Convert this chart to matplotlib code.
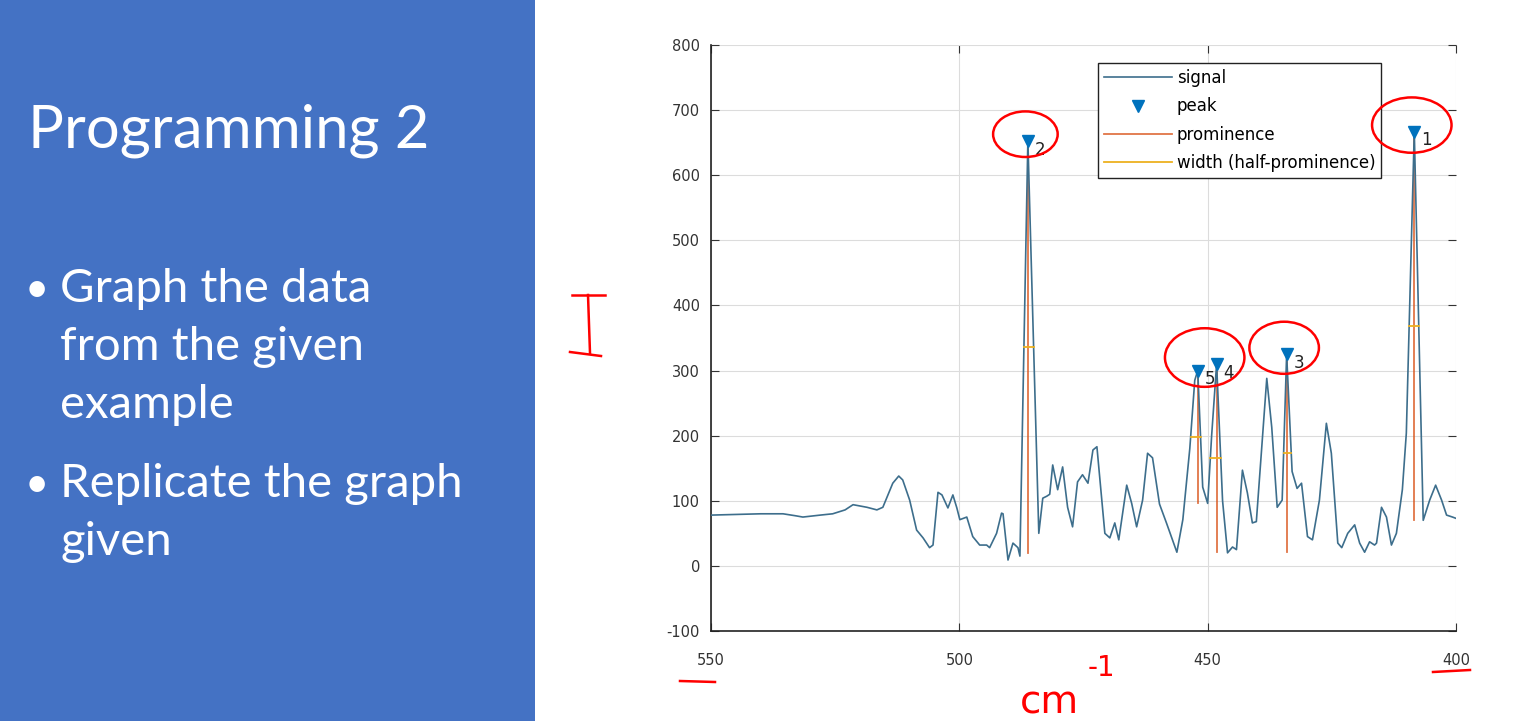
import numpy as np
import matplotlib.pyplot as plt
from matplotlib.patches import Ellipse, Rectangle
from matplotlib.lines import Line2D

plt.rcParams["axes.unicode_minus"] = False

# signal (wavenumber in cm^-1, intensity)
wavenumber = [550, 545, 540, 535.5, 533, 531.5, 528, 525.5, 523, 521.4, 520, 518.6, 516.6, 515.4,
              513.4, 512.2, 511.4, 510, 508.6, 507.3, 506, 505.3, 504.3, 503.5, 502.3, 501.3,
              500.5, 499.9, 498.5, 497.3, 495.9, 494.5, 493.9, 492.5, 491.5, 491.2, 490.2, 489.2,
              488.2, 487.8, 486.2, 484, 483.2, 482.4, 481.8, 481.2, 480.2, 479.2, 478.2, 477.2,
              476.2, 475.2, 474.1, 473.1, 472.3, 470.7, 469.7, 468.7, 467.9, 466.3, 465.3, 464.3,
              463.1, 462.1, 461.1, 459.7, 458.3, 456.2, 455, 453.6, 452.6, 452, 451, 450, 449.2,
              448.2, 447, 446, 445, 444.2, 443, 442, 441, 440.2, 438.1, 437.1, 436, 435, 434.1,
              433, 432, 431.1, 429.9, 428.9, 427.5, 426.1, 425.1, 423.8, 423, 421.8, 420.4, 419.4,
              418.4, 417.4, 416.4, 416, 415, 414, 413, 412, 410.8, 410, 408.4, 406.6, 405.3, 404.1,
              402.9, 401.9, 400.7, 400]
intensity = [78, 79, 80, 80, 77, 75, 78, 80, 86, 94, 92, 90, 86, 90,
             127, 138, 132, 101, 55, 43, 28, 32, 113, 109, 89, 109,
             89, 71, 75, 45, 32, 32, 28, 50, 81, 80, 9, 35,
             28, 15, 653, 50, 104, 107, 110, 155, 117, 152, 90, 60,
             129, 140, 127, 178, 183, 50, 43, 66, 40, 124, 96, 60,
             101, 173, 166, 95, 66, 21, 71, 180, 285, 300, 121, 96, 200,
             310, 100, 20, 29, 25, 147, 112, 66, 68, 288, 213, 90, 101, 325,
             145, 119, 127, 45, 40, 101, 219, 173, 35, 28, 50, 63, 35,
             21, 37, 32, 35, 90, 75, 32, 50, 117, 204, 667, 70, 101, 124,
             101, 78, 75, 73]

n_peaks = 5

x = np.array(wavenumber, dtype=float)
y = np.array(intensity, dtype=float)

# local maxima, keep the five highest
cand = [i for i in range(1, len(y) - 1) if y[i] > y[i - 1] and y[i] > y[i + 1]]
cand = sorted(cand, key=lambda i: -y[i])[:n_peaks]


def prominence(i):
    l = i
    while l > 0 and y[l - 1] <= y[i]:
        l -= 1
    r = i
    while r < len(y) - 1 and y[r + 1] <= y[i]:
        r += 1
    return y[i] - max(y[l:i + 1].min(), y[i:r + 1].min())


def half_width(i, h):
    l = i
    while l > 0 and y[l] > h:
        l -= 1
    r = i
    while r < len(y) - 1 and y[r] > h:
        r += 1
    xl = np.interp(h, [y[l], y[l + 1]], [x[l], x[l + 1]])
    xr = np.interp(h, [y[r], y[r - 1]], [x[r], x[r - 1]])
    return xl, xr


W, H = 1526, 721
fig = plt.figure(figsize=(W / 100, H / 100), dpi=100)
fig.patch.set_facecolor("white")

# left blue slide panel
fig.patches.append(Rectangle((0, 0), 535 / W, 1, transform=fig.transFigure,
                             facecolor="#4472C4", edgecolor="none", zorder=0))
fig.text(28 / W, 1 - 148 / H, "Programming 2", color="white", fontsize=43,
         family="Lato", va="baseline")
bullets = [(302, "•", "Graph the data"), (360, "", "from the given"), (418, "", "example"),
           (497, "•", "Replicate the graph"), (555, "", "given")]
for yy, b, t in bullets:
    if b:
        fig.text(25 / W, 1 - yy / H, b, color="white", fontsize=30, family="Lato", va="baseline")
    fig.text(60 / W, 1 - yy / H, t, color="white", fontsize=34, family="Lato", va="baseline")

ax = fig.add_axes([711 / W, 1 - 631 / H, 745 / W, 586 / H])
blue = "#0072BD"
ax.plot(x, y, color="#3d6e8c", lw=1.2, label="signal", zorder=3)
ax.plot(x[cand], y[cand], "v", color=blue, ms=9, label="peak", zorder=5)
for k, i in enumerate(cand):
    p = prominence(i)
    ax.plot([x[i], x[i]], [y[i] - p, y[i]], color="#D95319", lw=1.3,
            label="prominence" if k == 0 else None, zorder=2, alpha=0.8)
    h = y[i] - p / 2
    xl, xr = half_width(i, h)
    ax.plot([xl, xr], [h, h], color="#EDB120", lw=1.3,
            label="width (half-prominence)" if k == 0 else None, zorder=4)
    ax.annotate(str(k + 1), (x[i], y[i]), xytext=(5, -10), textcoords="offset points",
                fontsize=12, color="#222222")

# hand drawn red circles round the peaks
for i, (w, hh) in zip(cand, [(16, 85), (13, 70), (14, 80), (16, 90), (0, 0)]):
    if w:
        cx = x[i] if i != cand[3] else (x[i] + x[cand[4]]) / 2
        ax.add_patch(Ellipse((cx + 0.5, y[i] + 10), w, hh, fill=False, edgecolor="red",
                             lw=1.8, zorder=6, clip_on=False))

ax.set_xlim(550, 400)
ax.set_ylim(-100, 800)
ax.set_xticks([550, 500, 450, 400])
ax.set_yticks(np.arange(-100, 801, 100))
ax.grid(True, color="#dcdcdc", lw=0.8)
ax.set_axisbelow(True)
ax.tick_params(direction="in", length=6, top=True, right=True, labelsize=10.5,
               colors="#333333", pad=8)
ax.tick_params(axis="x", pad=16)
for s in ["top", "right"]:
    ax.spines[s].set_visible(False)
for s in ["left", "bottom"]:
    ax.spines[s].set_color("#222222")
    ax.spines[s].set_linewidth(1.2)

leg = ax.legend(loc="upper right", bbox_to_anchor=(0.911, 0.983), fontsize=12,
                handlelength=4.1, handletextpad=0.3, fancybox=False, framealpha=1,
                borderpad=0.35, labelspacing=0.62)
leg.get_frame().set_edgecolor("#222222")
leg.get_frame().set_linewidth(1.0)

# red hand written marks
red = "red"
fig.add_artist(Line2D([572 / W, 605 / W], [1 - 295 / H, 1 - 295 / H], color=red, lw=1.8))
fig.add_artist(Line2D([588 / W, 590 / W], [1 - 295 / H, 1 - 353 / H], color=red, lw=1.8))
fig.add_artist(Line2D([570 / W, 601 / W], [1 - 352 / H, 1 - 356 / H], color=red, lw=1.8))
fig.add_artist(Line2D([680 / W, 715 / W], [1 - 681 / H, 1 - 682 / H], color=red, lw=1.8))
fig.add_artist(Line2D([1433 / W, 1470 / W], [1 - 672 / H, 1 - 670 / H], color=red, lw=1.8))
fig.text(1020 / W, 1 - 713 / H, "cm", color=red, fontsize=28, family="DejaVu Sans", va="baseline")
fig.text(1088 / W, 1 - 676 / H, "-1", color=red, fontsize=20, family="DejaVu Sans", va="baseline")

fig.savefig("out.png", dpi=100)
